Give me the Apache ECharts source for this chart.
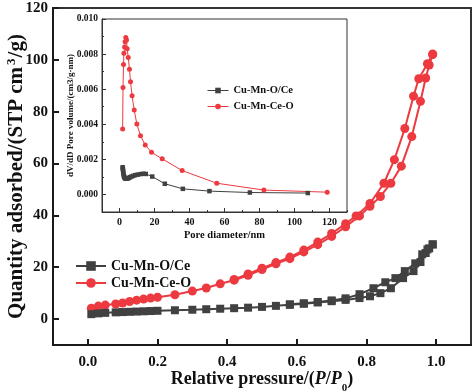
<!DOCTYPE html>
<html>
<head>
<meta charset="utf-8">
<script src="https://cdn.jsdelivr.net/npm/echarts@6/dist/echarts.min.js"></script>
<style>html,body{margin:0;padding:0;background:#fff}#c{width:474px;height:392px}</style>
</head>
<body>
<div id="c"></div>
<script>
// Main isotherm: Cu-Mn-Ce-O (red)
const redAdsP = [0.01,0.03,0.05,0.08,0.10,0.12,0.14,0.16,0.18,0.20,0.25,0.30,0.34,0.38,0.42,0.46,0.50,0.54,0.58,0.62,0.66,0.70,0.74,0.78,0.81,0.84,0.87,0.90,0.93,0.955,0.97,0.98,0.99];
const redAdsQ = [4.2,5.0,5.4,5.8,6.2,6.8,7.3,7.7,8.1,8.4,9.4,10.8,12.0,13.6,15.0,16.9,19.1,21.3,23.3,25.9,28.7,31.9,35.6,39.8,43.5,47.3,52.4,59.0,70.4,84.0,93.0,98.0,102.0];
const redDesP = [0.99,0.975,0.95,0.935,0.91,0.88,0.85,0.81,0.77,0.74,0.70,0.66,0.62,0.58,0.54,0.50,0.46,0.42];
const redDesQ = [102.3,98.5,92.7,86.0,73.5,61.5,52.4,44.6,39.8,36.8,33.0,29.7,26.6,23.9,21.8,19.6,17.4,15.3];
// Main isotherm: Cu-Mn-O/Ce (gray)
const grayAdsP = [0.01,0.03,0.05,0.08,0.10,0.12,0.14,0.16,0.18,0.20,0.25,0.30,0.34,0.38,0.42,0.46,0.50,0.54,0.58,0.62,0.66,0.70,0.74,0.78,0.81,0.84,0.87,0.905,0.935,0.955,0.97,0.98,0.99];
const grayAdsQ = [1.9,2.2,2.4,2.6,2.7,2.8,2.9,3.0,3.1,3.2,3.4,3.6,3.8,4.0,4.2,4.4,4.7,5.1,5.5,5.9,6.4,6.9,7.4,8.1,8.8,10.0,11.9,15.8,18.5,22.0,25.5,27.3,28.8];
const grayDesP = [0.99,0.975,0.96,0.94,0.91,0.883,0.854,0.82,0.78,0.74,0.70,0.66,0.62,0.58];
const grayDesQ = [28.8,26.9,25.0,21.5,18.5,15.8,14.2,11.9,9.6,8.0,7.2,6.6,6.1,5.7];
// Inset pore size distribution
const insetRedD = [1.8,2.0,2.3,2.5,2.9,3.2,3.6,4.0,4.4,5.0,5.7,6.3,7.2,8.4,9.9,12.0,14.7,18.3,24.4,35.8,55.6,82.5,118.7];
const insetRedV = [0.00373,0.0061,0.0074,0.00805,0.0084,0.0087,0.00894,0.0088,0.0083,0.0078,0.00714,0.00642,0.00562,0.00481,0.00402,0.00335,0.00282,0.0024,0.00203,0.00136,0.00064,0.00025,0.00013];
const insetGrayD = [1.8,1.9,2.0,2.1,2.2,2.4,2.6,2.9,3.2,3.6,4.0,4.6,5.3,6.0,6.8,7.8,9.0,10.4,12.0,13.6,15.0,18.7,25.9,36.2,51.4,74.5,107.6];
const insetGrayV = [0.00155,0.00148,0.0014,0.0013,0.0012,0.0011,0.00102,0.00096,0.00092,0.0009,0.0009,0.00091,0.00094,0.00098,0.00102,0.00106,0.0011,0.00113,0.00116,0.00118,0.00117,0.00102,0.00061,0.00032,0.00019,0.00011,0.00008];
// Tick labels
const mainXTicks = [0.0,0.2,0.4,0.6,0.8,1.0];
const mainYTicks = [0,20,40,60,80,100,120];
const insetXTicks = [0,20,40,60,80,100,120];
const insetYTicks = [0,0.002,0.004,0.006,0.008,0.010];
const names = ['Cu-Mn-O/Ce','Cu-Mn-Ce-O'];

const RED = '#ec3a40', GRAY = '#414141', INK = '#111';
const SERIF = '"Liberation Serif","Times New Roman",serif';
const zip = (a,b) => a.map((v,i)=>[v,b[i]]);

const chart = echarts.init(document.getElementById('c'), null, {renderer:'canvas'});
const tickLbl = (size) => ({fontFamily:SERIF, fontWeight:'bold', fontSize:size, color:INK});

const option = {
  backgroundColor:'#fff',
  animation:false,
  grid:[
    {left:53, right:3, top:8, bottom:47, show:true, borderColor:'#333', borderWidth:2, backgroundColor:'transparent', outerBoundsMode:'none', containLabel:false},
    {left:102, right:127, top:19, bottom:180, show:true, borderColor:'#333', borderWidth:1, backgroundColor:'#fff', outerBoundsMode:'none', containLabel:false}
  ],
  legend:[
    {data:names, orient:'vertical', left:70, top:254, itemWidth:30, itemHeight:12, itemGap:3,
     textStyle:{fontFamily:SERIF, fontWeight:'bold', fontSize:14, color:INK}, lineStyle:{width:2}},
    {data:names, orient:'vertical', left:202, top:80, itemWidth:21, itemHeight:7, itemGap:5,
     textStyle:{fontFamily:SERIF, fontWeight:'bold', fontSize:10.5, color:INK}, lineStyle:{width:1}}
  ],
  xAxis:[
    {gridIndex:0, type:'value', min:-0.1, max:1.1, position:'bottom',
     axisLine:{show:true, onZero:false, lineStyle:{color:'#1a1a1a', width:2}},
     axisTick:{show:true, inside:true, length:6, lineStyle:{width:2, color:'#1a1a1a'}, customValues:mainXTicks},
     axisLabel:{customValues:mainXTicks, margin:10, formatter:v=>v.toFixed(1), ...tickLbl(15)},
     splitLine:{show:false},
     name:'{b|Relative pressure/(}{i|P}{b|/}{i|P}{s|0}{b|)}', nameLocation:'middle', nameGap:23, nameMoveOverlap:false,
     nameTextStyle:{rich:{
       b:{fontFamily:SERIF, fontWeight:'bold', fontSize:18, color:INK, lineHeight:22},
       i:{fontFamily:SERIF, fontWeight:'bold', fontStyle:'italic', fontSize:18, color:INK, lineHeight:22},
       s:{fontFamily:SERIF, fontWeight:'bold', fontSize:11, color:INK, lineHeight:12, verticalAlign:'bottom', padding:[0,0,-4,0]}
     }}},
    {gridIndex:1, type:'value', min:-10, max:130, interval:10, position:'bottom', offset:0,
     axisLine:{show:true, onZero:false, lineStyle:{color:'#333', width:1}},
     axisTick:{show:true, inside:true, length:2, lineStyle:{color:'#333'}},
     axisLabel:{show:false}, splitLine:{show:false}},
    {gridIndex:1, type:'value', min:-10, max:130, position:'bottom', offset:0,
     axisLine:{show:false, onZero:false},
     axisTick:{show:true, inside:true, length:4, lineStyle:{color:'#333'}, customValues:insetXTicks},
     axisLabel:{customValues:insetXTicks, margin:5, ...tickLbl(10)},
     splitLine:{show:false},
     name:'Pore diameter/nm', nameLocation:'middle', nameGap:18, nameMoveOverlap:false,
     nameTextStyle:{fontFamily:SERIF, fontWeight:'bold', fontSize:10.5, color:INK}}
  ],
  yAxis:[
    {gridIndex:0, type:'value', min:-10, max:120, position:'left',
     axisLine:{show:true, onZero:false, lineStyle:{color:'#1a1a1a', width:2}},
     axisTick:{show:true, inside:true, length:6, lineStyle:{width:2, color:'#1a1a1a'}, customValues:mainYTicks},
     axisLabel:{customValues:mainYTicks, margin:5, ...tickLbl(15)},
     splitLine:{show:false},
     name:'{b|Quantity adsorbed/(STP cm}{s|3}{b|/g)}', nameLocation:'middle', nameGap:24, nameRotate:90, nameMoveOverlap:false,
     nameTextStyle:{rich:{
       b:{fontFamily:SERIF, fontWeight:'bold', fontSize:21, color:INK, lineHeight:24},
       s:{fontFamily:SERIF, fontWeight:'bold', fontSize:13, color:INK, lineHeight:14, verticalAlign:'top', padding:[0,1,0,2]}
     }}},
    {gridIndex:1, type:'value', min:-0.001, max:0.010, interval:0.001, position:'left', offset:0,
     axisLine:{show:true, onZero:false, lineStyle:{color:'#333', width:1}},
     axisTick:{show:true, inside:true, length:2, lineStyle:{color:'#333'}},
     axisLabel:{show:false}, splitLine:{show:false}},
    {gridIndex:1, type:'value', min:-0.001, max:0.010, position:'left', offset:0,
     axisLine:{show:false, onZero:false},
     axisTick:{show:true, inside:true, length:4, lineStyle:{color:'#333'}, customValues:insetYTicks},
     axisLabel:{customValues:insetYTicks, margin:4, formatter:v=>v.toFixed(3), ...tickLbl(9.5)},
     splitLine:{show:false},
     name:'dV/dD Pore volume/(cm3/g·nm)', nameLocation:'middle', nameGap:27, nameRotate:90, nameMoveOverlap:false,
     nameTextStyle:{fontFamily:SERIF, fontWeight:'bold', fontSize:9, color:INK}}
  ],
  series:[
    {name:names[1], type:'line', xAxisIndex:0, yAxisIndex:0, data:zip(redAdsP,redAdsQ),
     symbol:'circle', symbolSize:9, itemStyle:{color:RED}, lineStyle:{color:RED, width:2}},
    {name:names[1], type:'line', xAxisIndex:0, yAxisIndex:0, data:zip(redDesP,redDesQ),
     symbol:'circle', symbolSize:9, itemStyle:{color:RED}, lineStyle:{color:RED, width:2}},
    {name:names[0], type:'line', xAxisIndex:0, yAxisIndex:0, data:zip(grayAdsP,grayAdsQ),
     symbol:'rect', symbolSize:8, itemStyle:{color:GRAY}, lineStyle:{color:GRAY, width:2}},
    {name:names[0], type:'line', xAxisIndex:0, yAxisIndex:0, data:zip(grayDesP,grayDesQ),
     symbol:'rect', symbolSize:8, itemStyle:{color:GRAY}, lineStyle:{color:GRAY, width:2}},
    {name:names[1], type:'line', xAxisIndex:2, yAxisIndex:2, data:zip(insetRedD,insetRedV),
     symbol:'circle', symbolSize:5, itemStyle:{color:RED}, lineStyle:{color:RED, width:1}},
    {name:names[0], type:'line', xAxisIndex:2, yAxisIndex:2, data:zip(insetGrayD,insetGrayV),
     symbol:'rect', symbolSize:4.5, itemStyle:{color:GRAY}, lineStyle:{color:GRAY, width:1}}
  ]
};
chart.setOption(option);
</script>
</body>
</html>
